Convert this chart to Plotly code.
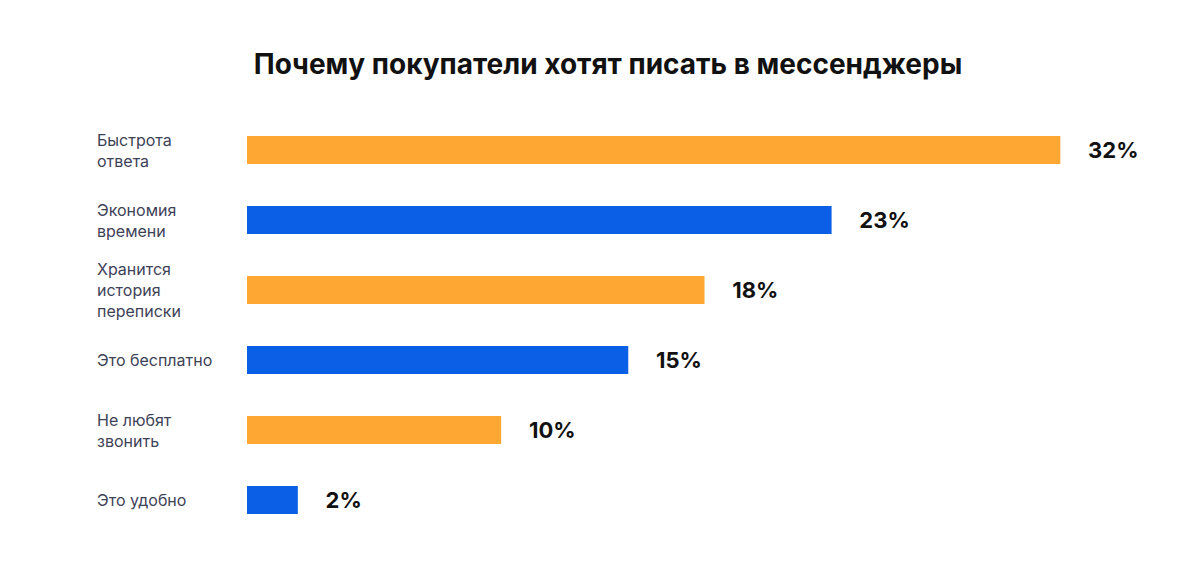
import plotly.graph_objects as go

categories = ["Быстрота<br>ответа", "Экономия<br>времени", "Хранится<br>история<br>переписки",
              "Это бесплатно", "Не любят<br>звонить", "Это удобно"]
values = [32, 23, 18, 15, 10, 2]
colors = ["#FFA733", "#0A5FE6", "#FFA733", "#0A5FE6", "#FFA733", "#0A5FE6"]

fig = go.Figure()
fig.add_trace(go.Bar(
    x=values, y=categories, orientation="h",
    marker=dict(color=colors, line=dict(width=0)),
    width=0.4,
    text=[f"    <b>{v}%</b>" for v in values], textposition="outside",
    textfont=dict(family="Inter, Roboto", size=22, color="#111111"),
    cliponaxis=False,
))

for c in categories:
    fig.add_annotation(
        x=-0.166, xref="paper", y=c, yref="y", text=c, showarrow=False,
        xanchor="left", align="left",
        font=dict(family="Inter, Roboto", size=16, color="#3d4257"),
    )

fig.update_layout(
    title=dict(text="<b>Почему покупатели хотят писать в мессенджеры</b>",
               x=0.5, y=0.92, xanchor="center",
               font=dict(family="Inter, Roboto", size=28, color="#111111")),
    width=1200, height=574,
    paper_bgcolor="white", plot_bgcolor="white",
    margin=dict(l=239, r=46, t=107, b=47),
    xaxis=dict(range=[0, 36], visible=False),
    yaxis=dict(autorange="reversed", showticklabels=False, showgrid=False, zeroline=False),
    showlegend=False,
    uniformtext=dict(minsize=22, mode="show"),
)

fig.write_html("out.html")
